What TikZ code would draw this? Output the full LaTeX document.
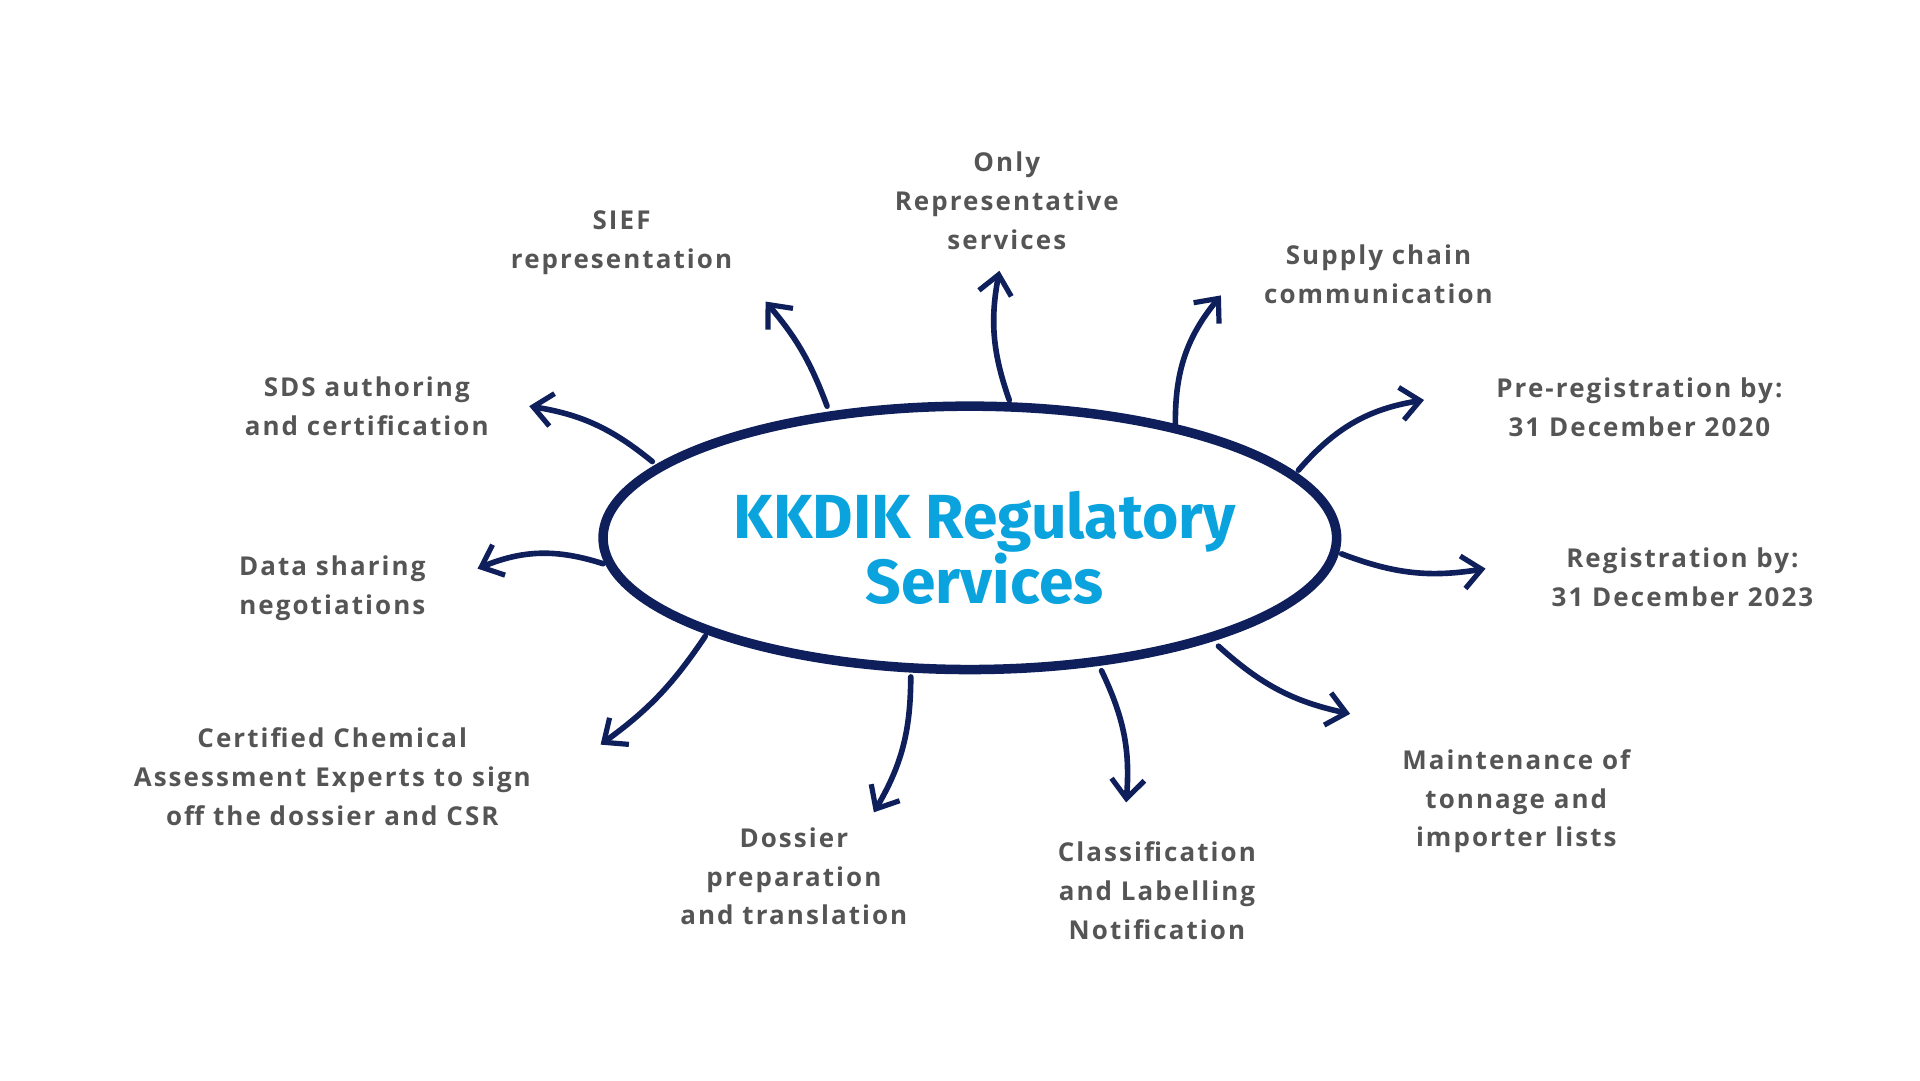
\documentclass[tikz,border=0pt]{standalone}
\usepackage{fontspec}
\setmainfont{Open Sans}[LetterSpace=8]
\newfontfamily\titlefont{Fira Sans}
\usetikzlibrary{arrows.meta,shapes.geometric}
\definecolor{navy}{HTML}{0E1F5B}
\definecolor{txt}{HTML}{555555}
\definecolor{cyanT}{HTML}{0AA3DD}
\begin{document}
\begin{tikzpicture}[x=0.5mm,y=-0.5mm,
  lbl/.style={align=center,text=txt,font=\fontsize{30}{45}\selectfont\bfseries},
  arr/.style={draw=navy,line width=6.5pt,line cap=round,-{Straight Barb[length=22pt,width=38pt,line width=6pt]}}]
\useasboundingbox (0,0) rectangle (1560,878);
\node[draw=navy,line width=11pt,ellipse,minimum width=298mm,minimum height=107mm,inner sep=0pt] (e) at (788,437) {};
\node[text=cyanT,align=center,font=\titlefont\fontsize{72}{70}\selectfont\bfseries] (t) at (800,445) {KKDIK Regulatory\\Services};
\coordinate (s1) at (672,330); \coordinate (e1) at (622,245);
\coordinate (s2) at (820,325); \coordinate (e2) at (812,220);
\coordinate (s3) at (955,345); \coordinate (e3) at (992,240);
\coordinate (s4) at (1055,382); \coordinate (e4) at (1157,325);
\coordinate (s5) at (1090,450); \coordinate (e5) at (1207,462);
\coordinate (s6) at (990,525); \coordinate (e6) at (1097,580);
\coordinate (s7) at (895,545); \coordinate (e7) at (915,652);
\coordinate (s8) at (740,550); \coordinate (e8) at (710,660);
\coordinate (s9) at (573,517); \coordinate (e9) at (488,605);
\coordinate (s10) at (490,458); \coordinate (e10) at (388,462);
\coordinate (s11) at (530,375); \coordinate (e11) at (430,330);
\draw[arr] (s1) to[bend right=10] (e1);
\draw[arr] (s2) to[bend left=15] (e2);
\draw[arr] (s3) to[bend left=20] (e3);
\draw[arr] (s4) to[bend left=20] (e4);
\draw[arr] (s5) to[bend right=15] (e5);
\draw[arr] (s6) to[bend right=15] (e6);
\draw[arr] (s7) to[bend left=15] (e7);
\draw[arr] (s8) to[bend left=15] (e8);
\draw[arr] (s9) to[bend left=10] (e9);
\draw[arr] (s10) to[bend right=20] (e10);
\draw[arr] (s11) to[bend right=15] (e11);
\node[lbl] (l1) at (505,197) {SIEF\\representation};
\node[lbl] (l2) at (818,163) {Only\\Representative\\services};
\node[lbl] (l3) at (1120,223) {Supply chain\\communication};
\node[lbl] (l4) at (1332,331) {Pre-registration by:\\31 December 2020};
\node[lbl] (l5) at (1367,469) {Registration by:\\31 December 2023};
\node[lbl] (l6) at (1232,651) {Maintenance of\\tonnage and\\importer lists};
\node[lbl] (l7) at (940,724) {Classification\\and Labelling\\Notification};
\node[lbl] (l8) at (645,712) {Dossier\\preparation\\and translation};
\node[lbl] (l9) at (270,631) {Certified Chemical\\Assessment Experts to sign\\off the dossier and CSR};
\node[lbl] (l10) at (270,478) {Data sharing\\negotiations};
\node[lbl] (l11) at (298,330) {SDS authoring\\and certification};
\end{tikzpicture}
\end{document}
